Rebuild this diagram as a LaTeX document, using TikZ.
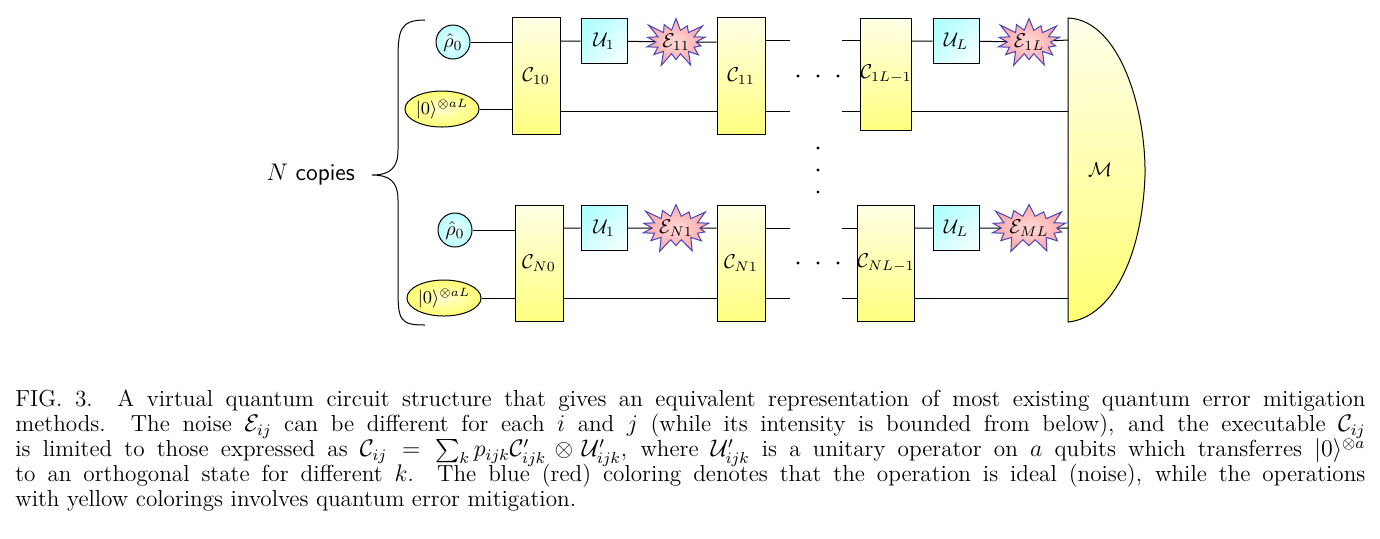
\documentclass[tikz,border=0pt]{standalone}
\usepackage{amsmath,amssymb}
\usetikzlibrary{shapes.symbols,shapes.geometric}
\begin{document}
\begin{tikzpicture}[x=0.5pt,y=-0.5pt,
  wire/.style={line width=0.5pt},
  cbox/.style={draw,line width=0.5pt,top color=yellow!10,bottom color=yellow!50,minimum width=24pt,inner sep=0pt},
  ubox/.style={draw,line width=0.5pt,left color=cyan!30,right color=cyan!6,shading angle=45,minimum width=23pt,minimum height=22.5pt,inner sep=0pt},
  noise/.style={starburst,starburst points=14,starburst point height=8pt,draw=blue!45!gray,line width=0.5pt,inner color=red!15,outer color=red!35,inner sep=0pt,minimum width=36pt,minimum height=28pt},
  rho/.style={circle,draw,line width=0.5pt,inner color=cyan!6,outer color=cyan!28,minimum size=17pt,inner sep=0pt},
  anc/.style={ellipse,draw,line width=0.5pt,inner color=yellow!20,outer color=yellow!55,minimum width=29pt,minimum height=18pt,inner sep=0pt},
  dt/.style={circle,fill,inner sep=0.55pt}]
\useasboundingbox (0,0) rectangle (1380,538);
% ---------- top copy
\node[rho] (r1) at (453,42) {$\hat\rho_0$};
\node[anc] (a1) at (442,109) {\small$|0\rangle^{\otimes aL}$};
\node[cbox,minimum height=58.5pt] (c10) at (536,76) {$\mathcal{C}_{10}$};
\node[ubox] (u11) at (604,41) {$\mathcal{U}_1$};
\node[noise] (e11) at (676,42) {$\mathcal{E}_{11}$};
\node[cbox,minimum height=58.5pt] (c11) at (741,76) {$\mathcal{C}_{11}$};
\node[cbox,minimum height=56pt] (c1L) at (886,74) {$\mathcal{C}_{1L-1}$};
\node[ubox] (u1L) at (956,41) {$\mathcal{U}_L$};
\node[noise] (e1L) at (1029,42) {$\mathcal{E}_{1L}$};
% ---------- bottom copy
\node[rho] (r2) at (455,230) {$\hat\rho_0$};
\node[anc] (a2) at (444,298) {\small$|0\rangle^{\otimes aL}$};
\node[cbox,minimum height=58pt] (cN0) at (539,263) {$\mathcal{C}_{N0}$};
\node[ubox] (uN1) at (604,228) {$\mathcal{U}_1$};
\node[noise] (eN1) at (676,228) {$\mathcal{E}_{N1}$};
\node[cbox,minimum height=58pt] (cN1) at (741,263) {$\mathcal{C}_{N1}$};
\node[cbox,minimum height=58pt] (cNL) at (886,263) {$\mathcal{C}_{NL-1}$};
\node[ubox] (uNL) at (956,228) {$\mathcal{U}_L$};
\node[noise] (eML) at (1029,228) {$\mathcal{E}_{ML}$};
% measurement
\draw[line width=0.5pt,top color=yellow!8,bottom color=yellow!55]
  (1068,18) .. controls (1120,20) and (1146,110) .. (1145,175)
  .. controls (1142,260) and (1110,318) .. (1068,322) -- cycle;
\node (M) at (1100,170) {$\mathcal{M}$};
% wire endpoints
\foreach \n/\y in {1/40,2/111,3/228,4/298}{
  \coordinate (o\n) at (790,\y); \coordinate (i\n) at (842,\y); \coordinate (m\n) at (1068,\y);}
% top wires
\draw[wire] (r1) -- (c10.west|-r1);
\draw[wire] (c10.east|-u11) -- (u11) -- (e11) -- (c11.west|-e11);
\draw[wire] (c11.east|-o1) -- (o1);
\draw[wire] (i1) -- (c1L.west|-i1);
\draw[wire] (c1L.east|-u1L) -- (u1L) -- (e1L) -- (m1);
\draw[wire] (a1) -- (c10.west|-a1);
\draw[wire] (c10.east|-o2) -- (c11.west|-o2);
\draw[wire] (c11.east|-o2) -- (o2);
\draw[wire] (i2) -- (c1L.west|-i2);
\draw[wire] (c1L.east|-m2) -- (m2);
% bottom wires
\draw[wire] (r2) -- (cN0.west|-r2);
\draw[wire] (cN0.east|-uN1) -- (uN1) -- (eN1) -- (cN1.west|-eN1);
\draw[wire] (cN1.east|-o3) -- (o3);
\draw[wire] (i3) -- (cNL.west|-i3);
\draw[wire] (cNL.east|-uNL) -- (uNL) -- (eML) -- (m3);
\draw[wire] (a2) -- (cN0.west|-a2);
\draw[wire] (cN0.east|-o4) -- (cN1.west|-o4);
\draw[wire] (cN1.east|-o4) -- (o4);
\draw[wire] (i4) -- (cNL.west|-i4);
\draw[wire] (cNL.east|-m4) -- (m4);
% dots
\foreach \x in {798,818,838}{\node[dt] at (\x,76) {}; \node[dt] at (\x,263) {};}
\foreach \y in {148,170,192}{\node[dt] at (818,\y) {};}
% brace
\draw[line width=0.5pt] (425,20) .. controls (400,20) and (398,30) .. (398,60)
  -- (398,150) .. controls (398,168) and (390,175) .. (372,175)
  .. controls (390,175) and (398,182) .. (398,200) -- (398,290)
  .. controls (398,320) and (400,325) .. (425,325);
\node[anchor=east] (nc) at (362,175) {\large $N$ \sffamily copies};
% caption
\node[anchor=north west,text width=675pt,align=justify,inner sep=0pt,font={\fontsize{11.6}{12.5}\selectfont\lineskiplimit=-20pt}] (cap) at (15,390)
{FIG. 3. A virtual quantum circuit structure that gives an equivalent representation of most existing quantum error mitigation\linebreak methods. The noise $\mathcal{E}_{ij}$ can be different for each $i$ and $j$ (while its intensity is bounded from below), and the executable $\mathcal{C}_{ij}$\linebreak is limited to those expressed as $\mathcal{C}_{ij}=\sum_k p_{ijk}\mathcal{C}'_{ijk}\otimes\mathcal{U}'_{ijk}$, where $\mathcal{U}'_{ijk}$ is a unitary operator on $a$ qubits which transferres $|0\rangle^{\otimes a}$\linebreak to an orthogonal state for different $k$. The blue (red) coloring denotes that the operation is ideal (noise), while the operations\linebreak with yellow colorings involves quantum error mitigation.};
\end{tikzpicture}
\end{document}
